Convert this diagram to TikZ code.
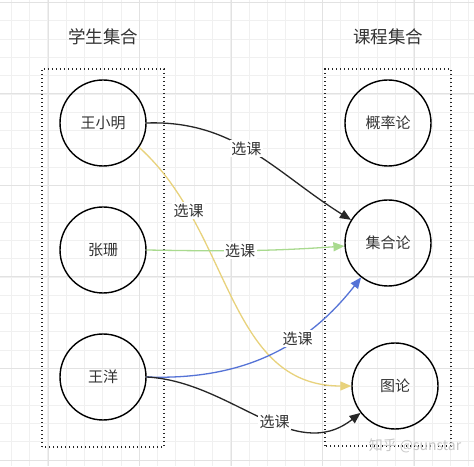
\documentclass[tikz,border=0pt]{standalone}
\usepackage{fontspec}
\setmainfont{Noto Sans CJK SC}
\usetikzlibrary{arrows.meta}
\definecolor{txtgray}{HTML}{333333}
\definecolor{minorgrid}{HTML}{F0F0F0}
\definecolor{majorgrid}{HTML}{E2E2E2}
\definecolor{pickyellow}{HTML}{E8D27C}
\definecolor{pickgreen}{HTML}{A9DA8F}
\definecolor{pickblue}{HTML}{5573D6}
\definecolor{pickblack}{HTML}{262626}
\tikzset{
  person/.style={circle, draw=black, line width=1.4pt, minimum size=86pt, inner sep=0pt,
    text=txtgray, font=\fontsize{15}{18}\selectfont},
  settitle/.style={text=txtgray, font=\fontsize{17.5}{20}\selectfont},
  setbox/.style={line width=1.5pt, dash pattern=on 1.4pt off 2.6pt, draw=black!85},
  pick/.style={line width=1.3pt, -{Triangle[length=11pt,width=9pt]}},
  lbl/.style={fill=white, inner sep=1.5pt, text=txtgray, font=\fontsize{15}{18}\selectfont}
}
\begin{document}
\begin{tikzpicture}[x=1pt, y=1pt]
    \useasboundingbox (0,0) rectangle (474,466);
    \fill[white] (0,0) rectangle (474,466);
    % background grid
    \draw[minorgrid, line width=0.6pt, step=18.3pt, shift={(11pt,6.1pt)}] (-11,-6.1) grid (463,460);
    \draw[majorgrid, line width=0.8pt, step=91.5pt, shift={(48pt,6.1pt)}] (-48,-6.1) grid (426,460);

    % the two sets
    \draw[setbox] (42,19) rectangle (164,397);
    \draw[setbox] (325,20) rectangle (451,397);
    \node[settitle] (stuTitle) at (103,429) {学生集合};
    \node[settitle] (crsTitle) at (388,429) {课程集合};

    % students
    \node[person] (wxm) at (103,343) {王小明};
    \node[person] (zs)  at (103,216) {张珊};
    \node[person] (wy)  at (103,89)  {王洋};

    % courses
    \node[person] (gll) at (388,343) {概率论};
    \node[person] (jhl) at (388,223) {集合论};
    \node[person] (tl)  at (395,80)  {图论};

    % choices
    \draw[pick, pickblack] (wxm.east) to[out=2, in=148] node[lbl, pos=0.46] {选课} (jhl);
    \draw[pick, pickyellow] (wxm.-34) to[out=-42, in=180] node[lbl, pos=0.22] {选课} (tl);
    \draw[pick, pickgreen] (zs.east) to[out=-1, in=184] node[lbl, pos=0.47] {选课} (jhl);
    \draw[pick, pickblue] (wy.east) to[out=-2, in=232] node[lbl, pos=0.65] {选课} (jhl);
    \draw[pick, pickblack] (wy.east) to[out=-3, in=218] node[lbl, pos=0.57] {选课} (tl);

    \node[text=black!22, font=\fontsize{14}{16}\selectfont] (mark) at (415,20) {知乎 @sunstar};
\end{tikzpicture}
\end{document}
